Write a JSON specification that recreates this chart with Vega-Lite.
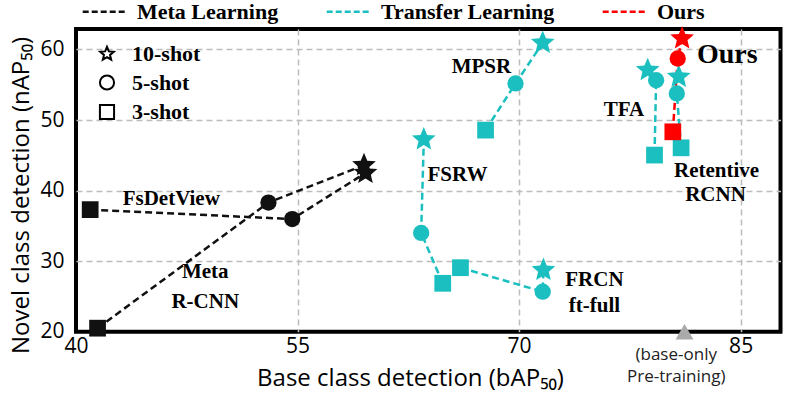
{
  "$schema": "https://vega.github.io/schema/vega-lite/v6.json",
  "width": 704.5,
  "height": 302.7,
  "autosize": {"type": "none"},
  "padding": {"left": 76, "top": 29, "right": 9.5, "bottom": 64.3},
  "background": "white",
  "config": {
    "view": {"stroke": "black", "strokeWidth": 4},
    "axis": {"domain": false, "ticks": false, "tickSize": 0, "grid": true, "gridDash": [6, 4], "gridColor": "#BDBDBD", "gridWidth": 1.5, "labelFont": "Open Sans", "labelFontSize": 21, "labelColor": "black", "titleFont": "Open Sans", "titleFontSize": 24, "titleFontWeight": "normal", "titleColor": "black"}
  },
  "datasets": {
    "pts": [
      {"group": "Meta Learning", "method": "Meta R-CNN", "shot": "3-shot", "k": 3, "x": 41.46, "y": 20.5},
      {"group": "Meta Learning", "method": "Meta R-CNN", "shot": "5-shot", "k": 5, "x": 53.03, "y": 38.3},
      {"group": "Meta Learning", "method": "Meta R-CNN", "shot": "10-shot", "k": 10, "x": 59.5, "y": 43.6},
      {"group": "Meta Learning", "method": "FsDetView", "shot": "3-shot", "k": 3, "x": 40.96, "y": 37.3},
      {"group": "Meta Learning", "method": "FsDetView", "shot": "5-shot", "k": 5, "x": 54.64, "y": 35.96},
      {"group": "Meta Learning", "method": "FsDetView", "shot": "10-shot", "k": 10, "x": 59.6, "y": 42.5},
      {"group": "Transfer Learning", "method": "FSRW", "shot": "3-shot", "k": 3, "x": 64.83, "y": 26.86},
      {"group": "Transfer Learning", "method": "FSRW", "shot": "5-shot", "k": 5, "x": 63.37, "y": 34.0},
      {"group": "Transfer Learning", "method": "FSRW", "shot": "10-shot", "k": 10, "x": 63.55, "y": 47.25},
      {"group": "Transfer Learning", "method": "FRCN ft-full", "shot": "3-shot", "k": 3, "x": 66.03, "y": 29.07},
      {"group": "Transfer Learning", "method": "FRCN ft-full", "shot": "5-shot", "k": 5, "x": 71.6, "y": 25.67},
      {"group": "Transfer Learning", "method": "FRCN ft-full", "shot": "10-shot", "k": 10, "x": 71.65, "y": 28.74},
      {"group": "Transfer Learning", "method": "MPSR", "shot": "3-shot", "k": 3, "x": 67.73, "y": 48.57},
      {"group": "Transfer Learning", "method": "MPSR", "shot": "5-shot", "k": 5, "x": 69.76, "y": 55.18},
      {"group": "Transfer Learning", "method": "MPSR", "shot": "10-shot", "k": 10, "x": 71.6, "y": 60.94},
      {"group": "Transfer Learning", "method": "TFA", "shot": "3-shot", "k": 3, "x": 79.17, "y": 45.03},
      {"group": "Transfer Learning", "method": "TFA", "shot": "5-shot", "k": 5, "x": 79.28, "y": 55.65},
      {"group": "Transfer Learning", "method": "TFA", "shot": "10-shot", "k": 10, "x": 78.71, "y": 57.07},
      {"group": "Transfer Learning", "method": "Retentive RCNN", "shot": "3-shot", "k": 3, "x": 80.97, "y": 46.06},
      {"group": "Transfer Learning", "method": "Retentive RCNN", "shot": "5-shot", "k": 5, "x": 80.68, "y": 53.77},
      {"group": "Transfer Learning", "method": "Retentive RCNN", "shot": "10-shot", "k": 10, "x": 80.81, "y": 56.12},
      {"group": "Ours", "method": "Ours", "shot": "3-shot", "k": 3, "x": 80.41, "y": 48.33},
      {"group": "Ours", "method": "Ours", "shot": "5-shot", "k": 5, "x": 80.74, "y": 58.72},
      {"group": "Ours", "method": "Ours", "shot": "10-shot", "k": 10, "x": 81.04, "y": 61.56}
    ],
    "labels": [
      {"x": 67.45, "y": 57.5, "text": "MPSR"},
      {"x": 77.1, "y": 51.4, "text": "TFA"},
      {"x": 65.83, "y": 42.2, "text": "FSRW"},
      {"x": 46.45, "y": 38.75, "text": "FsDetView"},
      {"x": 48.75, "y": 28.45, "text": "Meta"},
      {"x": 48.75, "y": 24.25, "text": "R-CNN"},
      {"x": 83.37, "y": 42.8, "text": "Retentive"},
      {"x": 83.3, "y": 39.36, "text": "RCNN"},
      {"x": 75.1, "y": 27.3, "text": "FRCN"},
      {"x": 75.1, "y": 23.6, "text": "ft-full"}
    ],
    "ours_label": [{"x": 84.1, "y": 59.2, "text": "Ours"}],
    "base": [{"x": 81.2, "y": 20}],
    "note": [
      {"x": 80.64, "y": 16.7, "text": "(base-only"},
      {"x": 80.64, "y": 13.54, "text": "Pre-training)"}
    ]
  },
  "layer": [
    {
      "data": {"name": "pts"},
      "mark": {"type": "line", "strokeDash": [7, 4], "strokeWidth": 2.5},
      "encoding": {
        "x": {"field": "x", "type": "quantitative", "scale": {"domain": [40, 87.7], "nice": false, "zero": false},
          "axis": {"values": [40, 55, 70, 85], "labelPadding": 4, "labelFlush": false, "gridOpacity": {"condition": {"test": "datum.value === 40", "value": 0}, "value": 1},
            "title": "Base class detection (bAP₅₀)", "titleX": 334, "titleY": 47, "titleBaseline": "middle", "titleAlign": "center"}},
        "y": {"field": "y", "type": "quantitative", "scale": {"domain": [20, 62.9], "nice": false, "zero": false},
          "axis": {"values": [20, 30, 40, 50, 60], "labelPadding": 12, "labelFlush": false, "gridOpacity": {"condition": {"test": "datum.value === 20", "value": 0}, "value": 1},
            "title": "Novel class detection (nAP₅₀)", "titleX": -55, "titleY": 166, "titleAngle": 270, "titleBaseline": "middle", "titleAlign": "center"}},
        "color": {"field": "group", "type": "nominal",
          "scale": {"domain": ["Meta Learning", "Transfer Learning", "Ours"], "range": ["#111111", "#1BBFBF", "#FF0000"]},
          "legend": {"orient": "none", "legendX": 5, "legendY": -41, "direction": "horizontal", "title": null,
            "symbolType": "stroke", "symbolSize": 1900, "symbolStrokeWidth": 2.5, "symbolDash": [6, 3],
            "labelFont": "Liberation Serif", "labelFontWeight": "bold", "labelFontSize": 22, "labelColor": "black",
            "labelLimit": 400, "labelOffset": 9, "columnPadding": 42}},
        "detail": {"field": "method"},
        "order": {"field": "k", "type": "quantitative"}
      }
    },
    {
      "data": {"name": "pts"},
      "mark": {"type": "point", "filled": true, "opacity": 1},
      "encoding": {
        "x": {"field": "x", "type": "quantitative"},
        "y": {"field": "y", "type": "quantitative"},
        "color": {"field": "group", "type": "nominal"},
        "shape": {"field": "shot", "type": "nominal",
          "scale": {"domain": ["10-shot", "5-shot", "3-shot"], "range": ["M0,-1L0.2645,-0.364L0.951,-0.309L0.428,0.139L0.588,0.809L0,0.45L-0.588,0.809L-0.428,0.139L-0.951,-0.309L-0.2645,-0.364Z", "circle", "square"]},
          "legend": {"orient": "none", "legendX": 20, "legendY": 14, "title": null, "symbolSize": 200,
            "symbolStrokeWidth": 2, "symbolStrokeColor": "black", "symbolFillColor": "transparent",
            "labelFont": "Liberation Serif", "labelFontWeight": "bold", "labelFontSize": 22, "labelColor": "black",
            "labelOffset": 14, "rowPadding": 5.5,
            "encode": {"symbols": {"update": {"fill": {"value": "transparent"}, "stroke": {"value": "black"}, "strokeWidth": {"value": 2}}}}}},
        "size": {"condition": [{"test": "datum.k === 10", "value": 620}, {"test": "datum.k === 5", "value": 265}], "value": 280}
      }
    },
    {
      "data": {"name": "base"},
      "mark": {"type": "point", "shape": "triangle-up", "filled": true, "color": "#AAAAAA", "opacity": 1, "size": 320},
      "encoding": {"x": {"field": "x", "type": "quantitative"}, "y": {"field": "y", "type": "quantitative"}}
    },
    {
      "data": {"name": "labels"},
      "mark": {"type": "text", "font": "Liberation Serif", "fontWeight": "bold", "fontSize": 21, "color": "black", "baseline": "middle", "align": "center"},
      "encoding": {"x": {"field": "x", "type": "quantitative"}, "y": {"field": "y", "type": "quantitative"}, "text": {"field": "text"}}
    },
    {
      "data": {"name": "ours_label"},
      "mark": {"type": "text", "font": "Liberation Serif", "fontWeight": "bold", "fontSize": 28, "color": "black", "baseline": "middle", "align": "center"},
      "encoding": {"x": {"field": "x", "type": "quantitative"}, "y": {"field": "y", "type": "quantitative"}, "text": {"field": "text"}}
    },
    {
      "data": {"name": "note"},
      "mark": {"type": "text", "font": "Open Sans", "fontSize": 17, "color": "#222222", "baseline": "middle", "align": "center"},
      "encoding": {"x": {"field": "x", "type": "quantitative"}, "y": {"field": "y", "type": "quantitative"}, "text": {"field": "text"}}
    }
  ]
}
